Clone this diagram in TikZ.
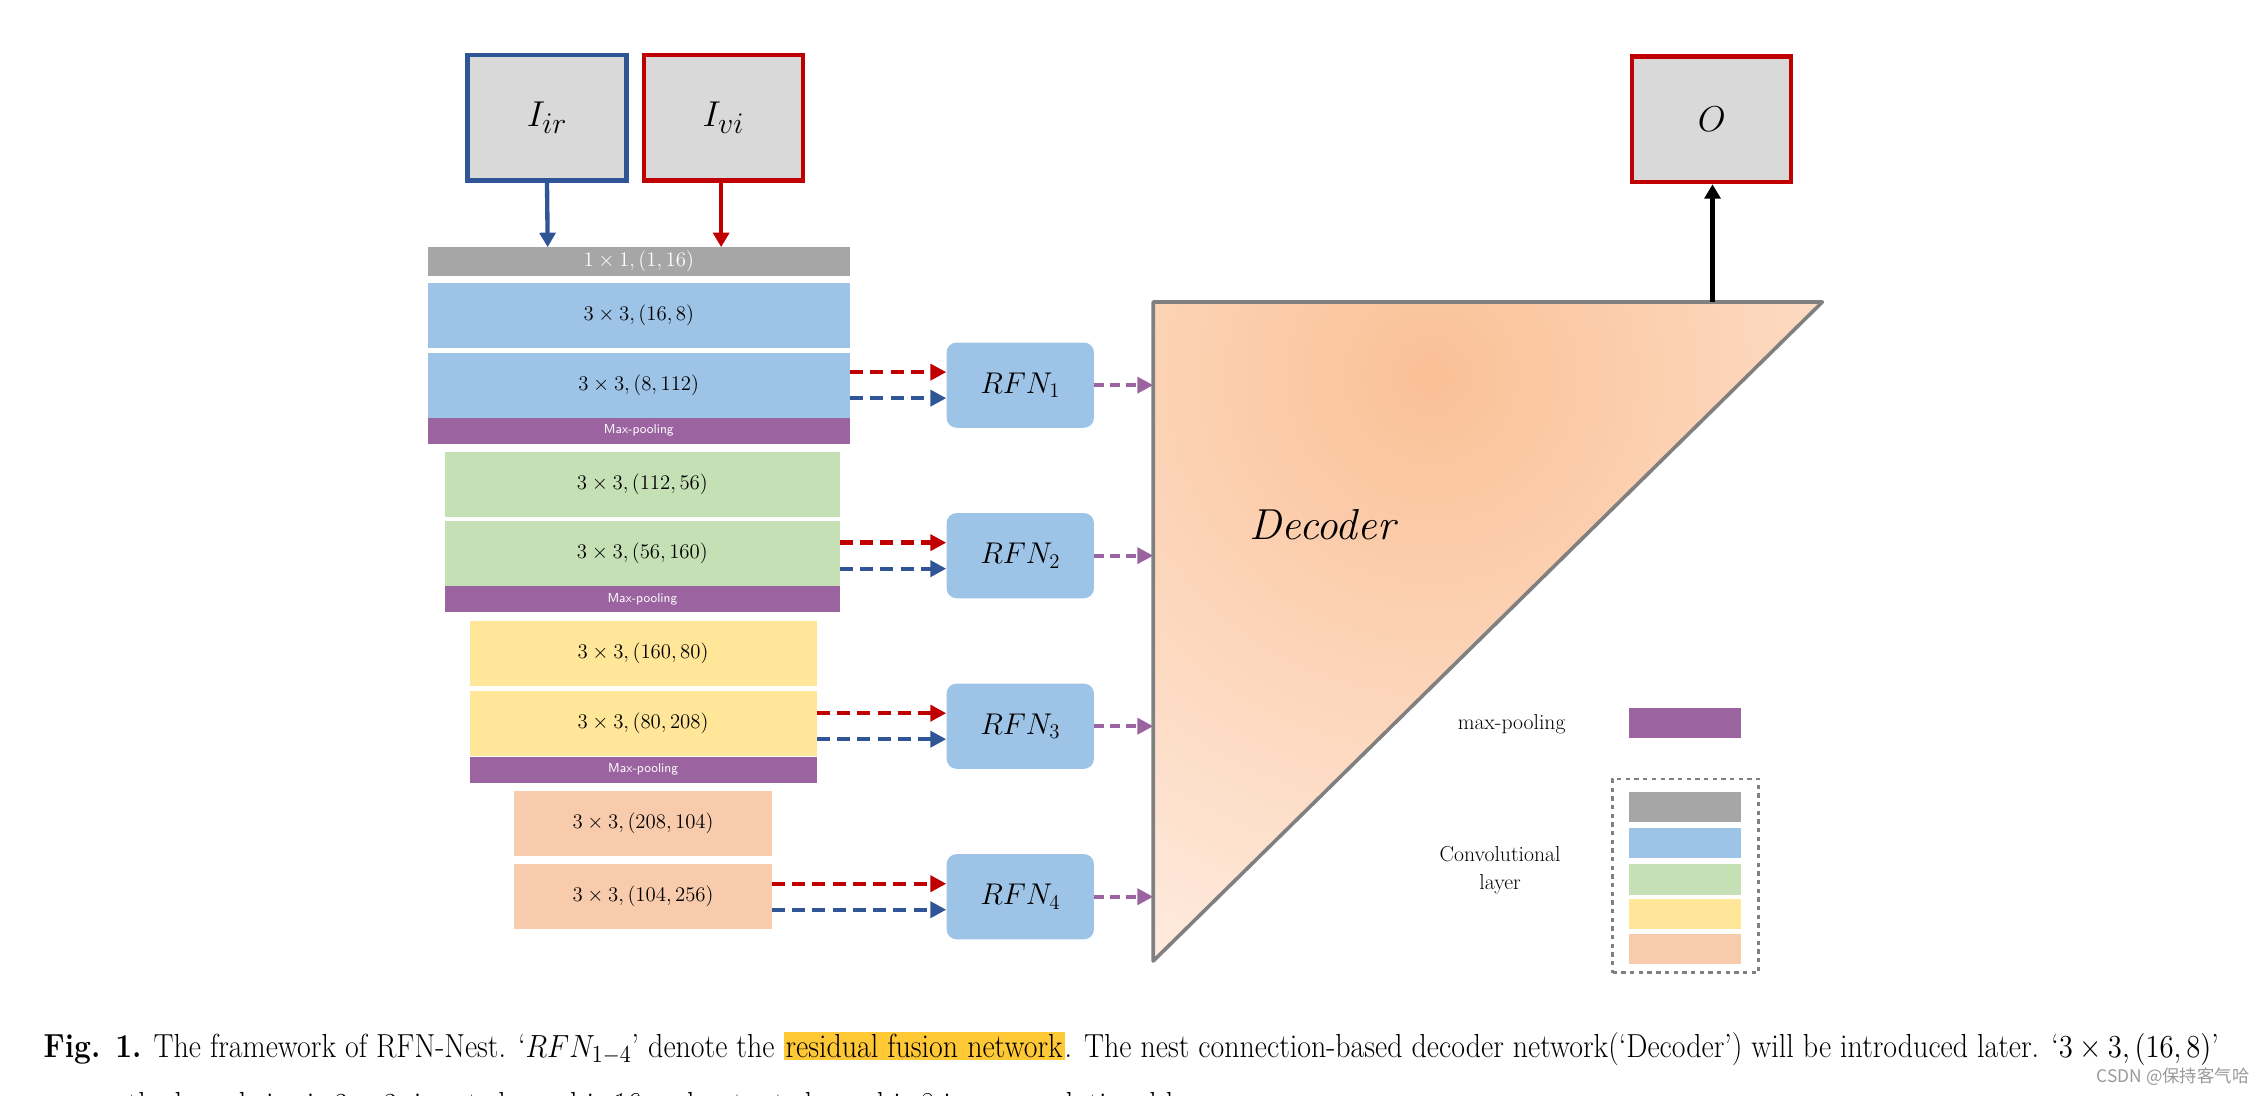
\documentclass[tikz,border=0pt]{standalone}
\usepackage{amsmath}
\usepackage{graphicx}
\usepackage{fontspec}
\newfontfamily\cjk{Noto Sans CJK SC}
\usetikzlibrary{arrows.meta}
\definecolor{cgray}{HTML}{A6A6A6}
\definecolor{cblue}{HTML}{9DC3E6}
\definecolor{cgreen}{HTML}{C5E0B4}
\definecolor{cyel}{HTML}{FFE699}
\definecolor{cor}{HTML}{F8CBAD}
\definecolor{cpur}{HTML}{9B64A0}
\definecolor{bblue}{HTML}{2F5597}
\definecolor{bred}{HTML}{C00000}
\definecolor{boxg}{HTML}{D9D9D9}
\definecolor{hl}{HTML}{FFC936}
\begin{document}
\begin{tikzpicture}[x=1pt,y=-1pt,
 layer/.style={minimum height=45pt,inner sep=0,font=\fontsize{14}{16}\selectfont},
 pool/.style={fill=cpur,minimum height=18pt,inner sep=0,text=white,font=\sffamily\fontsize{9}{10}\selectfont},
 inbox/.style={fill=boxg,line width=3pt,minimum width=110pt,minimum height=87pt,inner sep=0,font=\fontsize{30}{32}\selectfont},
 rfn/.style={fill=cblue,rounded corners=7pt,minimum width=102pt,minimum height=59pt,inner sep=0,font=\fontsize{22}{24}\selectfont},
 da/.style={dashed,dash pattern=on 9pt off 5pt,line width=3pt,-{Triangle[length=11pt,width=11pt]}},
 legbox/.style={minimum width=78pt,minimum height=21pt,inner sep=0}]
\useasboundingbox (0,0) rectangle (1568,758);
% inputs
\node[inbox,draw=bblue] (ir) at (378.5,81.5) {$I_{ir}$};
\node[inbox,draw=bred] (vi) at (500.5,81.5) {$I_{vi}$};
\node[inbox,draw=bred] (o) at (1184.5,82.5) {$O$};
% encoder
\node[fill=cgray,minimum width=292pt,minimum height=20pt,inner sep=0,text=white,font=\fontsize{14}{16}\selectfont] (g) at (442,181) {$1\times1,(1,16)$};
\node[layer,fill=cblue,minimum width=292pt] (b1) at (442,218.5) {$3\times3,(16,8)$};
\node[layer,fill=cblue,minimum width=292pt] (b2) at (442,266.5) {$3\times3,(8,112)$};
\node[pool,minimum width=292pt] (p1) at (442,298) {Max-pooling};
\node[layer,fill=cgreen,minimum width=273pt] (g1) at (444.5,335) {$3\times3,(112,56)$};
\node[layer,fill=cgreen,minimum width=273pt] (g2) at (444.5,383) {$3\times3,(56,160)$};
\node[pool,minimum width=273pt] (p2) at (444.5,414.5) {Max-pooling};
\node[layer,fill=cyel,minimum width=240pt] (y1) at (445,452) {$3\times3,(160,80)$};
\node[layer,fill=cyel,minimum width=240pt] (y2) at (445,500.5) {$3\times3,(80,208)$};
\node[pool,minimum width=240pt] (p3) at (445,532.5) {Max-pooling};
\node[layer,fill=cor,minimum width=178pt] (o1) at (445,569.5) {$3\times3,(208,104)$};
\node[layer,fill=cor,minimum width=178pt] (o2) at (445,620.5) {$3\times3,(104,256)$};
\draw[bblue,line width=3pt,-{Triangle[length=10pt,width=11pt]}] (ir.south) -- (379,171);
\draw[bred,line width=3pt,-{Triangle[length=10pt,width=11pt]}] (vi.south -| 499,0) -- (499,171);
% RFN
\node[rfn] (r1) at (706,266.5) {$RFN_1$};
\node[rfn] (r2) at (706,384.5) {$RFN_2$};
\node[rfn] (r3) at (706,502.5) {$RFN_3$};
\node[rfn] (r4) at (706,620.5) {$RFN_4$};
\foreach \s/\r/\yy in {b2/r1/266.5,g2/r2/384.5,y2/r3/502.5,o2/r4/620.5}{
 \draw[da,bred] (\s.east |- 0,\yy-9) -- (\r.west |- 0,\yy-9);
 \draw[da,bblue] (\s.east |- 0,\yy+9) -- (\r.west |- 0,\yy+9);
 \draw[da,cpur,dash pattern=on 7pt off 4pt] (\r.east) -- (798,\yy);
}
% decoder
\coordinate (t1) at (798,209); \coordinate (t2) at (1261,209); \coordinate (t3) at (798,665);
\begin{scope}
\clip (t1)--(t2)--(t3)--cycle;
\shade[inner color={rgb,255:red,250;green,192;blue,150}, outer color={rgb,255:red,255;green,238;blue,228}] (990,260) circle (480);
\end{scope}
\draw[gray,line width=2.5pt,line join=round] (t1)--(t2)--(t3)--cycle;
\node[font=\fontsize{30}{32}\selectfont\itshape] (dec) at (915,363) {Decoder};
\coordinate (ob) at (1185,209);
\draw[black,line width=3pt,-{Triangle[length=10pt,width=11pt]}] (ob) -- (o.south -| ob);
% legend
\node[font=\fontsize{15}{17}\selectfont] (mpl) at (1046,501) {max-pooling};
\node[legbox,fill=cpur] (lp) at (1166,500.5) {};
\node[draw=gray,dashed,line width=2pt,minimum width=101pt,minimum height=134pt,inner sep=0] (lb) at (1166.5,606) {};
\node[legbox,fill=cgray] (l1) at (1166,558.5) {};
\node[legbox,fill=cblue] (l2) at (1166,583.5) {};
\node[legbox,fill=cgreen] (l3) at (1166,608.5) {};
\node[legbox,fill=cyel] (l4) at (1166,632.5) {};
\node[legbox,fill=cor] (l5) at (1166,656.5) {};
\node[font=\fontsize{15}{19}\selectfont,align=center] (cl) at (1038,602) {Convolutional\\layer};
% caption
\node[anchor=north west,inner sep=0] (cap) at (30,706) {\resizebox{1505pt}{44pt}{\fontsize{15}{24}\selectfont\begin{tabular}{@{}l@{}}\textbf{Fig. 1.} The framework of RFN-Nest. `$RFN_{1-4}$' denote the {\setlength{\fboxsep}{1pt}\colorbox{hl}{residual fusion network}}. The nest connection-based decoder network(`Decoder') will be introduced later. `$3\times3,(16,8)$'\\[2pt]
means the kernel size is $3\times3$, input channel is 16 and output channel is 8 in a convolutional layer.\end{tabular}}};
\node[anchor=east,text=gray!80,font=\cjk\fontsize{12}{14}\selectfont] (wm) at (1560,745) {CSDN @保持客气哈};
\end{tikzpicture}
\end{document}
